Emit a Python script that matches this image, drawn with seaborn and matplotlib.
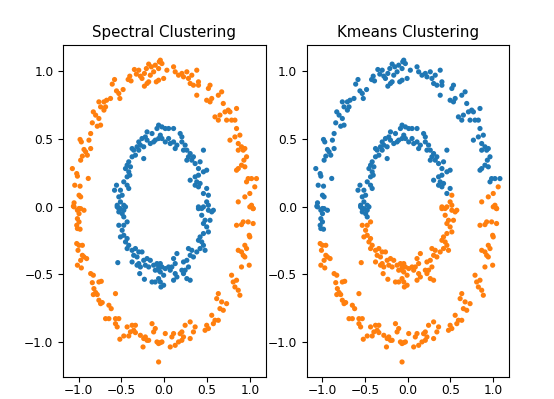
import pandas as pd
import seaborn as sns
import matplotlib.pyplot as plt

# points, grouped by ring and by the colour k-means gave them
outer_top = [(-0.058, 1.071), (-0.105, 1.046), (-0.151, 1.034), (-0.182, 1.054), (-0.209, 1.021),
             (-0.124, 0.997), (-0.163, 0.972), (-0.232, 0.985), (-0.201, 0.911), (-0.232, 0.891),
             (-0.182, 0.923), (-0.093, 0.923), (-0.298, 1.009), (-0.349, 1.014), (-0.326, 0.980),
             (-0.403, 0.965), (-0.422, 0.940), (-0.388, 0.930), (-0.279, 0.965), (-0.260, 0.948),
             (-0.581, 0.940), (-0.608, 0.906), (-0.558, 0.856), (-0.531, 0.837), (-0.481, 0.866),
             (-0.519, 0.800), (-0.628, 0.800), (-0.674, 0.787), (-0.705, 0.775), (-0.764, 0.775),
             (-0.744, 0.738), (-0.686, 0.738), (-0.705, 0.714), (-0.829, 0.701), (-0.802, 0.677),
             (-0.764, 0.652), (-0.841, 0.620), (-0.783, 0.595), (-0.744, 0.603), (-0.860, 0.541),
             (-0.880, 0.492), (-0.984, 0.497), (-0.969, 0.479), (-0.938, 0.423), (-0.860, 0.430),
             (-0.919, 0.406), (-0.957, 0.374), (-0.977, 0.344), (-0.899, 0.381), (-1.074, 0.282),
             (-1.023, 0.245), (-1.015, 0.226), (-0.888, 0.209), (-1.046, 0.159), (-0.984, 0.152),
             (-0.996, 0.085), (-0.977, 0.073), (-1.054, 0.029), (-1.062, 0.004), (-0.996, -0.013),
             (-0.046, 1.083), (-0.027, 1.058), (-0.066, 1.021), (-0.007, 0.948), (-0.066, 0.935),
             (0.031, 1.009), (0.109, 1.034), (0.128, 0.997), (0.167, 0.972), (0.206, 0.985),
             (0.225, 0.960), (0.264, 0.997), (0.283, 0.948), (0.303, 0.911), (0.322, 0.972),
             (0.341, 0.898), (0.380, 1.009), (0.400, 0.923), (0.400, 0.898), (0.380, 0.824),
             (0.535, 0.898), (0.516, 0.874), (0.496, 0.787), (0.535, 0.775), (0.555, 0.800),
             (0.632, 0.824), (0.671, 0.849), (0.690, 0.763), (0.593, 0.664), (0.651, 0.677),
             (0.632, 0.640), (0.710, 0.701), (0.748, 0.714), (0.768, 0.701), (0.729, 0.640),
             (0.787, 0.640), (0.826, 0.640), (0.845, 0.726), (0.768, 0.492), (0.826, 0.516),
             (0.865, 0.467), (0.845, 0.578), (0.884, 0.529), (0.903, 0.443), (0.923, 0.418),
             (0.865, 0.418), (0.942, 0.430), (0.962, 0.369), (0.931, 0.344), (0.903, 0.307),
             (0.845, 0.270), (0.865, 0.282), (0.942, 0.295), (0.981, 0.208), (0.962, 0.184),
             (1.020, 0.208), (1.078, 0.208),
             (-1.054, -0.001), (-1.015, -0.026), (-0.977, -0.014), (-0.938, -0.026), (-0.996, -0.051),
             (-1.015, -0.088), (-0.996, -0.112), (-1.023, -0.137), (-1.015, -0.161), (-0.984, -0.166)]

outer_bottom = [(1.058, 0.147), (1.000, 0.098), (0.942, 0.073), (0.865, 0.036), (1.020, 0.011),
                (1.039, -0.013),
                (-1.023, -0.272), (-0.996, -0.285), (-0.957, -0.285), (-1.008, -0.322), (-0.957, -0.359),
                (-0.938, -0.371), (-0.907, -0.383), (-0.977, -0.396), (-1.015, -0.432), (-0.969, -0.452),
                (-0.860, -0.494), (-0.829, -0.506), (-0.841, -0.561), (-0.822, -0.605), (-0.764, -0.556),
                (-0.736, -0.551), (-0.802, -0.634), (-0.783, -0.649), (-0.829, -0.649), (-0.764, -0.691),
                (-0.744, -0.716), (-0.725, -0.708), (-0.647, -0.728), (-0.620, -0.753), (-0.570, -0.642),
                (-0.686, -0.827), (-0.647, -0.827), (-0.570, -0.827), (-0.531, -0.827), (-0.550, -0.888),
                (-0.570, -0.864), (-0.434, -0.888), (-0.376, -0.876), (-0.337, -0.876), (-0.357, -0.913),
                (-0.395, -0.925), (-0.337, -0.930), (-0.473, -0.955), (-0.519, -0.979), (-0.415, -0.955),
                (-0.279, -0.950), (-0.221, -0.962), (-0.240, -0.974), (-0.201, -0.987), (-0.143, -0.864),
                (-0.105, -0.900), (-0.124, -0.925), (-0.182, -0.987), (-0.085, -0.999), (-0.046, -1.004),
                (-0.248, -1.036), (-0.066, -1.147),
                (1.000, -0.001), (1.039, -0.014), (0.845, -0.137), (0.903, -0.132), (0.923, -0.112),
                (0.981, -0.112), (1.039, -0.124), (0.993, -0.211), (1.000, -0.223), (0.942, -0.285),
                (0.962, -0.309), (0.903, -0.334), (0.865, -0.322), (0.923, -0.359), (0.942, -0.371),
                (0.903, -0.445), (0.993, -0.432), (0.787, -0.506), (0.806, -0.556), (0.845, -0.543),
                (0.826, -0.593), (0.865, -0.617), (0.884, -0.654), (0.632, -0.642), (0.613, -0.679),
                (0.671, -0.703), (0.729, -0.716), (0.651, -0.753), (0.690, -0.765), (0.555, -0.802),
                (0.593, -0.839), (0.632, -0.839), (0.574, -0.864), (0.496, -0.876), (0.516, -0.900),
                (0.477, -0.913), (0.303, -0.851), (0.244, -0.876), (0.206, -0.925), (0.186, -0.938),
                (0.225, -0.962), (0.303, -0.974), (0.341, -0.925), (0.361, -0.888), (0.109, -0.937),
                (0.089, -0.962), (0.012, -0.937), (-0.027, -0.999), (-0.066, -1.011), (0.070, -1.036),
                (0.128, -1.024), (0.167, -0.999), (0.206, -0.987)]

inner_top = [(-0.066, 0.603), (-0.085, 0.578), (-0.143, 0.541), (-0.201, 0.553), (-0.221, 0.516),
             (-0.260, 0.504), (-0.201, 0.492), (-0.298, 0.479), (-0.279, 0.455), (-0.318, 0.443),
             (-0.240, 0.443), (-0.376, 0.430), (-0.357, 0.418), (-0.298, 0.418), (-0.337, 0.381),
             (-0.376, 0.369), (-0.240, 0.356), (-0.415, 0.332), (-0.434, 0.307), (-0.395, 0.295),
             (-0.453, 0.282), (-0.415, 0.258), (-0.403, 0.233), (-0.434, 0.221), (-0.473, 0.184),
             (-0.434, 0.159), (-0.415, 0.135), (-0.558, 0.159), (-0.581, 0.122), (-0.512, 0.122),
             (-0.492, 0.085), (-0.531, 0.073), (-0.512, 0.036), (-0.550, 0.011), (-0.473, 0.011),
             (-0.531, -0.013), (-0.066, 0.504), (-0.105, 0.492), (-0.124, 0.479), (-0.163, 0.467),
             (-0.027, 0.590), (0.012, 0.578), (0.051, 0.578), (0.109, 0.578), (0.186, 0.541),
             (0.206, 0.516), (-0.046, 0.529), (-0.027, 0.504), (0.012, 0.479), (0.051, 0.504),
             (0.070, 0.467), (0.109, 0.479), (0.128, 0.430), (0.148, 0.455), (0.206, 0.479),
             (0.244, 0.455), (0.225, 0.418), (0.264, 0.418), (0.303, 0.393), (0.283, 0.369),
             (0.341, 0.369), (0.322, 0.344), (0.264, 0.344), (0.361, 0.319), (0.458, 0.418),
             (0.419, 0.332), (0.400, 0.282), (0.496, 0.270), (0.458, 0.258), (0.400, 0.233),
             (0.361, 0.221), (0.303, 0.196), (0.380, 0.184), (0.419, 0.172), (0.361, 0.159),
             (0.400, 0.147), (0.496, 0.135), (0.458, 0.098),
             (-0.550, -0.001), (-0.512, -0.014), (-0.473, -0.026), (-0.531, -0.038), (-0.492, -0.051),
             (-0.473, -0.075), (-0.453, -0.001)]

inner_bottom = [(0.516, 0.085), (0.496, 0.036), (0.516, 0.011), (0.400, -0.001), (0.438, -0.013),
                (-0.531, -0.137), (-0.473, -0.137), (-0.434, -0.112), (-0.492, -0.174), (-0.473, -0.211),
                (-0.512, -0.223), (-0.434, -0.235), (-0.453, -0.260), (-0.415, -0.285), (-0.434, -0.309),
                (-0.376, -0.322), (-0.337, -0.309), (-0.298, -0.334), (-0.260, -0.334), (-0.357, -0.359),
                (-0.318, -0.371), (-0.376, -0.408), (-0.298, -0.420), (-0.279, -0.445), (-0.318, -0.432),
                (-0.240, -0.396), (-0.201, -0.383), (-0.163, -0.396), (-0.221, -0.432), (-0.182, -0.445),
                (-0.124, -0.432), (-0.085, -0.420), (-0.066, -0.445), (-0.105, -0.469), (-0.046, -0.482),
                (-0.543, -0.413), (-0.287, -0.494), (-0.232, -0.536), (-0.143, -0.556), (-0.105, -0.556),
                (-0.039, -0.593),
                (0.400, -0.014), (0.458, -0.001), (0.516, -0.026), (0.555, -0.038), (0.574, -0.026),
                (0.438, -0.063), (0.477, -0.100), (0.535, -0.100), (0.458, -0.124), (0.496, -0.149),
                (0.516, -0.186), (0.458, -0.198), (0.419, -0.223), (0.400, -0.248), (0.438, -0.260),
                (0.458, -0.285), (0.477, -0.322), (0.419, -0.309), (0.380, -0.334), (0.322, -0.322),
                (0.283, -0.309), (0.303, -0.359), (0.341, -0.371), (0.264, -0.396), (0.225, -0.408),
                (0.283, -0.445), (0.244, -0.469), (0.206, -0.469), (0.148, -0.346), (0.109, -0.383),
                (0.128, -0.420), (0.089, -0.445), (0.051, -0.445), (0.012, -0.457), (-0.027, -0.445),
                (-0.046, -0.420), (-0.066, -0.469), (0.070, -0.469), (-0.007, -0.506), (-0.046, -0.556),
                (-0.007, -0.580), (0.128, -0.494), (0.148, -0.519), (0.109, -0.543), (0.225, -0.494),
                (0.264, -0.531), (0.303, -0.543), (-0.066, -0.531)]

BLUE = "#1f77b4"
ORANGE = "#ff7f0e"

# spectral: 0 = inner ring, 1 = outer ring; kmeans: 0 = top half, 1 = bottom half
groups = [(outer_top, 1, 0), (outer_bottom, 1, 1), (inner_top, 0, 0), (inner_bottom, 0, 1)]
rows = []
for pts, spec, km in groups:
    for px, py in pts:
        rows.append({"x": px, "y": py, "spectral": spec, "kmeans": km})
df = pd.DataFrame(rows)

plt.rcParams['font.family'] = ['DejaVu Sans']
fig, (ax1, ax2) = plt.subplots(1, 2, figsize=(5.54, 3.99), dpi=100)
fig.subplots_adjust(left=0.114, right=0.919, top=0.887, bottom=0.055, wspace=0.202)

pal = {0: BLUE, 1: ORANGE}
sns.scatterplot(data=df, x="x", y="y", hue="spectral", palette=pal, s=14,
                linewidth=0, legend=False, ax=ax1)
sns.scatterplot(data=df, x="x", y="y", hue="kmeans", palette=pal, s=14,
                linewidth=0, legend=False, ax=ax2)

for ax, title in [(ax1, "Spectral Clustering"), (ax2, "Kmeans Clustering")]:
    ax.set_title(title, fontsize=10.8)
    ax.set_xlabel("")
    ax.set_ylabel("")
    ax.set_xticks([-1.0, -0.5, 0.0, 0.5, 1.0])
    ax.set_yticks([-1.0, -0.5, 0.0, 0.5, 1.0])
    ax.tick_params(labelsize=8.7)
    # the reference has the x labels tight against the bottom edge
    ax.tick_params(axis="x", pad=1.5)

fig.savefig("out.png", dpi=100)
